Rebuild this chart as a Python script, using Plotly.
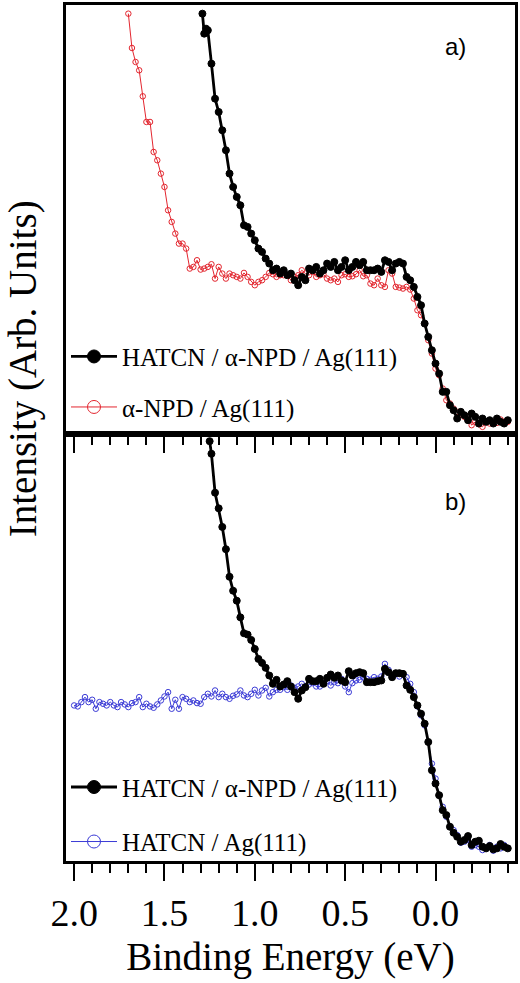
import plotly.graph_objects as go

# ---------------- data (binding energy in eV, intensity in arb. units) ----------------
# Panel a) : alpha-NPD / Ag(111)
npd_energy = [1.70, 1.68, 1.66, 1.64, 1.62, 1.60, 1.58, 1.56, 1.54, 1.52, 1.50, 1.48, 1.46, 1.44, 1.42,
              1.40, 1.38, 1.36, 1.34, 1.32, 1.30, 1.28, 1.26, 1.24, 1.22, 1.20, 1.18, 1.16, 1.14, 1.12,
              1.10, 1.08, 1.06, 1.04, 1.02, 1.00, 0.98, 0.96, 0.94, 0.92, 0.90, 0.88, 0.86, 0.84, 0.82,
              0.80, 0.78, 0.76, 0.74, 0.72, 0.70, 0.68, 0.66, 0.64, 0.62, 0.60, 0.58, 0.56, 0.54, 0.52,
              0.50, 0.48, 0.46, 0.44, 0.42, 0.40, 0.38, 0.36, 0.34, 0.32, 0.30, 0.28, 0.26, 0.24, 0.22,
              0.20, 0.18, 0.16, 0.14, 0.12, 0.10, 0.08, 0.06, 0.04, 0.02, 0.00, -0.02, -0.04, -0.06, -0.08,
              -0.10, -0.12, -0.14, -0.16, -0.18, -0.20, -0.22, -0.24, -0.26, -0.28, -0.30, -0.32, -0.34,
              -0.36, -0.38, -0.40]
npd_int = [126.0, 115.7, 111.5, 109.0, 101.2, 93.5, 93.5, 84.5, 82.0, 78.0, 74.0, 67.0, 63.5, 60.0, 57.0,
           57.0, 55.5, 49.5, 50.0, 52.0, 49.2, 49.5, 50.0, 50.8, 46.5, 50.0, 48.0, 46.5, 48.0, 47.5,
           47.0, 46.5, 48.2, 47.0, 45.5, 44.5, 45.5, 46.0, 47.0, 48.2, 47.8, 47.0, 47.5, 47.5, 47.5,
           46.0, 47.0, 47.5, 49.0, 48.0, 47.5, 48.5, 47.0, 47.5, 47.8, 46.5, 46.0, 46.5, 45.5, 47.5,
           47.8, 47.0, 47.2, 47.8, 49.0, 47.2, 47.5, 45.0, 44.5, 46.5, 44.5, 44.0, 49.0, 48.0, 44.0,
           43.8, 43.5, 44.0, 43.2, 40.5, 37.0, 35.5, 33.0, 28.0, 24.0, 19.5, 17.5, 13.5, 10.0, 9.0,
           7.5, 6.5, 5.8, 5.0, 5.2, 2.5, 3.5, 2.8, 2.0, 3.5, 3.0, 3.5, 3.2,
           4.2, 3.5, 3.5]

# Panel a) : HATCN / alpha-NPD / Ag(111)
hnpd_a_energy = [1.29, 1.28, 1.27, 1.26, 1.24, 1.22, 1.20, 1.18, 1.16, 1.14, 1.12, 1.10, 1.08, 1.06, 1.04,
                 1.02, 1.00, 0.98, 0.96, 0.94, 0.92, 0.90, 0.88, 0.86, 0.84, 0.82, 0.80, 0.78, 0.76, 0.74,
                 0.72, 0.70, 0.68, 0.66, 0.64, 0.62, 0.60, 0.58, 0.56, 0.54, 0.52, 0.50, 0.48, 0.46, 0.44,
                 0.42, 0.40, 0.38, 0.36, 0.34, 0.32, 0.30, 0.28, 0.26, 0.24, 0.22, 0.20, 0.18, 0.16, 0.14,
                 0.12, 0.10, 0.08, 0.06, 0.04, 0.02, 0.00, -0.02, -0.04, -0.06, -0.08, -0.10, -0.12, -0.14,
                 -0.16, -0.18, -0.20, -0.22, -0.24, -0.26, -0.28, -0.30, -0.32, -0.34, -0.36, -0.38, -0.40]
hnpd_a_int = [126.0, 120.0, 121.5, 121.0, 111.0, 100.5, 96.5, 91.0, 85.0, 78.0, 74.0, 71.0, 68.5, 62.5, 62.0,
              60.0, 58.0, 55.5, 54.5, 52.5, 51.0, 49.0, 49.5, 48.0, 49.0, 47.5, 48.0, 46.0, 44.5, 47.0,
              46.0, 49.5, 49.0, 50.0, 48.0, 49.0, 51.0, 50.0, 51.5, 49.0, 50.0, 52.0, 49.0, 50.0, 51.5,
              50.5, 51.5, 49.0, 49.0, 49.0, 49.5, 48.5, 52.0, 51.5, 49.0, 51.0, 51.5, 51.0, 47.0, 46.0,
              44.0, 41.0, 38.5, 33.0, 29.0, 25.0, 21.0, 18.0, 12.5, 12.5, 8.5, 7.0, 4.5, 6.5,
              5.5, 4.0, 6.0, 5.0, 3.0, 4.5, 3.5, 4.0, 3.0, 4.5, 3.5, 3.0, 4.0]

# Panel b) : HATCN / alpha-NPD / Ag(111)
hnpd_b_energy = [1.25, 1.24, 1.22, 1.20, 1.18, 1.16, 1.14, 1.12, 1.10, 1.08, 1.06, 1.04, 1.02, 1.00, 0.98,
                 0.96, 0.94, 0.92, 0.90, 0.88, 0.86, 0.84, 0.82, 0.80, 0.78, 0.76, 0.74, 0.72, 0.70, 0.68,
                 0.66, 0.64, 0.62, 0.60, 0.58, 0.56, 0.54, 0.52, 0.50, 0.48, 0.46, 0.44, 0.42, 0.40, 0.38,
                 0.36, 0.34, 0.32, 0.30, 0.28, 0.26, 0.24, 0.22, 0.20, 0.18, 0.16, 0.14, 0.12, 0.10, 0.08,
                 0.06, 0.04, 0.02, 0.00, -0.02, -0.04, -0.06, -0.08, -0.10, -0.12, -0.14, -0.16, -0.18,
                 -0.20, -0.22, -0.24, -0.26, -0.28, -0.30, -0.32, -0.34, -0.36, -0.38, -0.40]
hnpd_b_int = [126.3, 122.5, 110.8, 106.1, 100.5, 93.8, 85.5, 81.3, 78.3, 73.3, 68.5, 68.1, 66.5, 63.8, 60.8,
              59.6, 58.1, 55.8, 53.3, 54.5, 52.5, 53.1, 54.1, 52.5, 50.8, 48.8, 51.3, 52.3, 54.8, 54.1,
              54.1, 54.8, 53.3, 55.1, 56.1, 55.1, 55.8, 54.3, 53.8, 57.1, 55.8, 56.5, 56.8, 56.5, 53.8,
              53.8, 53.8, 54.1, 54.3, 57.8, 56.8, 55.3, 56.5, 56.5, 56.3, 52.8, 51.5, 49.3, 46.8, 44.3,
              41.3, 35.8, 27.3, 23.3, 19.8, 15.3, 13.8, 10.3, 8.5, 7.3, 5.8, 6.3, 7.5,
              4.8, 5.8, 6.1, 4.3, 3.8, 4.5, 3.5, 3.8, 5.1, 4.3, 3.8]

# Panel b) : HATCN / Ag(111)
hat_energy = [2.00, 1.98, 1.96, 1.94, 1.92, 1.90, 1.88, 1.86, 1.84, 1.82, 1.80, 1.78, 1.76, 1.74, 1.72,
              1.70, 1.68, 1.66, 1.64, 1.62, 1.60, 1.58, 1.56, 1.54, 1.52, 1.50, 1.48, 1.46, 1.44, 1.42,
              1.40, 1.38, 1.36, 1.34, 1.32, 1.30, 1.28, 1.26, 1.24, 1.22, 1.20, 1.18, 1.16, 1.14, 1.12,
              1.10, 1.08, 1.06, 1.04, 1.02, 1.00, 0.98, 0.96, 0.94, 0.92, 0.90, 0.88, 0.86, 0.84, 0.82,
              0.80, 0.78, 0.76, 0.74, 0.72, 0.70, 0.68, 0.66, 0.64, 0.62, 0.60, 0.58, 0.56, 0.54, 0.52,
              0.50, 0.48, 0.46, 0.44, 0.42, 0.40, 0.38, 0.36, 0.34, 0.32, 0.30, 0.28, 0.26, 0.24, 0.22,
              0.20, 0.18, 0.16, 0.14, 0.12, 0.10, 0.08, 0.06, 0.04, 0.02, 0.00, -0.02, -0.04, -0.06,
              -0.08, -0.10, -0.12, -0.14, -0.16, -0.18, -0.20, -0.22, -0.24, -0.26, -0.28, -0.30, -0.32,
              -0.34, -0.36, -0.38, -0.40]
hat_int = [46.8, 46.5, 47.8, 49.3, 47.8, 48.5, 45.8, 47.8, 47.3, 46.8, 47.8, 46.8, 46.3, 47.8, 47.1,
           46.3, 47.5, 47.8, 49.3, 46.3, 47.3, 46.5, 46.1, 47.1, 48.3, 49.5, 50.8, 45.8, 48.5, 45.8,
           49.3, 48.8, 47.8, 48.3, 47.5, 47.3, 49.3, 50.3, 49.5, 51.3, 49.3, 50.3, 49.3, 48.8, 49.7,
           50.1, 51.3, 49.8, 49.3, 50.3, 51.5, 49.8, 51.3, 52.1, 49.5, 50.8, 51.5, 51.5, 52.3, 51.5,
           52.8, 52.1, 52.5, 53.3, 52.5, 53.1, 53.5, 52.5, 52.5, 53.5, 54.1, 52.8, 53.8, 53.5, 54.8,
           52.5, 50.8, 53.5, 54.3, 54.5, 55.3, 54.8, 54.5, 55.3, 54.8, 55.5, 59.3, 57.5, 55.8, 56.5,
           55.5, 56.1, 55.3, 53.3, 50.8, 46.5, 43.8, 40.8, 35.8, 29.3, 24.8, 19.8, 16.3, 13.3,
           10.3, 9.3, 7.8, 5.5, 5.8, 6.3, 4.3, 4.8, 4.3, 3.3, 3.7, 4.8, 3.1,
           4.3, 3.8, 4.8, 3.8]

x_ticks = [2.0, 1.5, 1.0, 0.5, 0.0]
x_tick_text = ["2.0", "1.5", "1.0", "0.5", "0.0"]

label_both = "HATCN / \u03b1-NPD / Ag(111)"
label_npd = "\u03b1-NPD / Ag(111)"
label_hat = "HATCN / Ag(111)"

# ---------------- styles ----------------
SERIF = "Liberation Serif, Times New Roman, serif"
SANS = "Liberation Sans, Arial, sans-serif"
BLACK = "#000000"
RED = "#e3262f"
BLUE = "#3b3bd6"

fig = go.Figure()


def add_series(x, y, xa, ya, color, filled, lw, ms):
    fig.add_trace(go.Scatter(
        x=x, y=y, xaxis=xa, yaxis=ya, showlegend=False, hoverinfo="x+y",
        mode="lines+markers", line=dict(color=color, width=lw),
        marker=dict(symbol="circle" if filled else "circle-open", size=ms, color=color,
                    line=dict(width=1, color=color))))


def add_legend_entry(name, xa, ya, color, filled, lw, legend, rank):
    fig.add_trace(go.Scatter(
        x=[None], y=[None], xaxis=xa, yaxis=ya, name=name,
        mode="lines+markers", line=dict(color=color, width=lw),
        marker=dict(symbol="circle" if filled else "circle-open", size=13, color=color,
                    line=dict(width=1, color=color)),
        legend=legend, legendgroup=legend + str(rank), legendrank=rank))


# panel a
add_series(npd_energy, npd_int, "x2", "y2", RED, False, 1, 5.5)
add_series(hnpd_a_energy, hnpd_a_int, "x2", "y2", BLACK, True, 2.8, 7)
add_legend_entry(label_both, "x2", "y2", BLACK, True, 2.8, "legend", 1)
add_legend_entry(label_npd, "x2", "y2", RED, False, 1, "legend", 2)

# panel b
add_series(hat_energy, hat_int, "x", "y", BLUE, False, 1, 5.5)
add_series(hnpd_b_energy, hnpd_b_int, "x", "y", BLACK, True, 2.8, 7)
add_legend_entry(label_both, "x", "y", BLACK, True, 2.8, "legend2", 1)
add_legend_entry(label_hat, "x", "y", BLUE, False, 1, "legend2", 2)

split = 0.4994

common_x = dict(
    range=[2.045, -0.44], showline=True, linewidth=2.5, linecolor=BLACK, mirror=True,
    ticks="outside", ticklen=17, tickwidth=2, tickcolor=BLACK,
    tickvals=x_ticks, ticktext=x_tick_text,
    minor=dict(dtick=0.1, tick0=0, ticks="outside", ticklen=9, tickwidth=2, tickcolor=BLACK),
    showgrid=False, zeroline=False,
)
common_y = dict(
    range=[0, 128.6], showline=True, linewidth=2.5, linecolor=BLACK, mirror=True,
    ticks="", showticklabels=False, showgrid=False, zeroline=False,
)

legend_common = dict(
    xanchor="left", yanchor="top", bgcolor="rgba(0,0,0,0)", borderwidth=0,
    font=dict(family=SERIF, size=25, color=BLACK), itemsizing="trace",
    itemwidth=46, traceorder="grouped",
)

fig.update_layout(
    width=520, height=983,
    margin=dict(l=66, r=2, t=2, b=122),
    paper_bgcolor="white", plot_bgcolor="white",
    xaxis=dict(domain=[0, 1], anchor="y",
               tickfont=dict(family=SERIF, size=38, color=BLACK),
               title=dict(text="Binding Energy (eV)", font=dict(family=SERIF, size=39, color=BLACK),
                          standoff=10),
               **common_x),
    xaxis2=dict(domain=[0, 1], anchor="y2", matches="x", showticklabels=False, **common_x),
    yaxis=dict(domain=[0, split], anchor="x", **common_y),
    yaxis2=dict(domain=[split, 1], anchor="x2", **common_y),
    legend=dict(x=0.0, y=0.616, tracegroupgap=15, **legend_common),
    legend2=dict(x=0.0, y=0.113, tracegroupgap=19, **legend_common),
    annotations=[
        dict(text="Intensity (Arb. Units)", textangle=-90, xref="paper", yref="paper",
             x=-0.097, y=0.575, xanchor="center", yanchor="middle", showarrow=False,
             font=dict(family=SERIF, size=39, color=BLACK)),
        dict(text="a)", xref="paper", yref="paper", x=0.867, y=0.951,
             xanchor="center", yanchor="middle", showarrow=False,
             font=dict(family=SANS, size=24, color=BLACK)),
        dict(text="b)", xref="paper", yref="paper", x=0.867, y=0.420,
             xanchor="center", yanchor="middle", showarrow=False,
             font=dict(family=SANS, size=24, color=BLACK)),
    ],
    showlegend=True,
)

fig.write_html("out.html", config={"displayModeBar": False},
               post_script="document.body.style.margin='0';")
